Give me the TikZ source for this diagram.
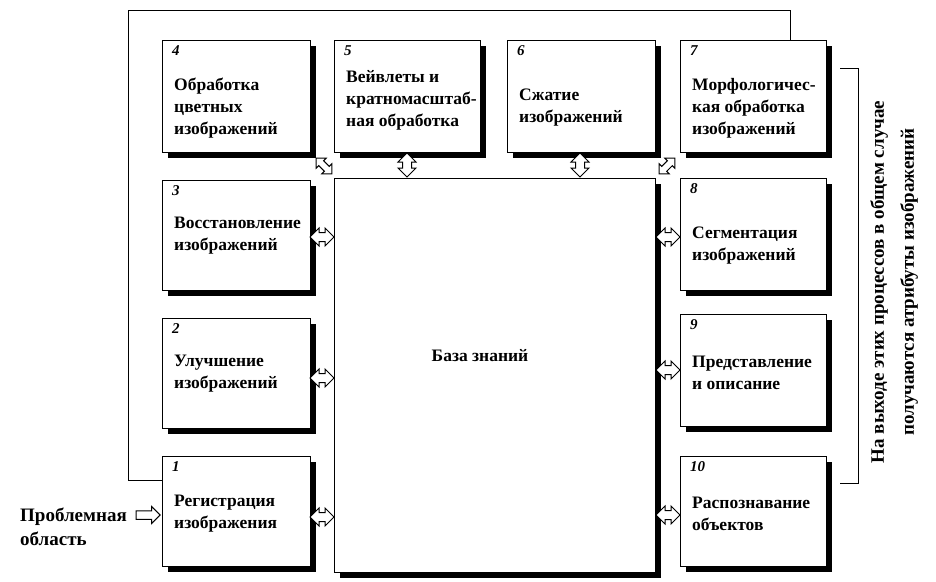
\documentclass[tikz,border=0pt]{standalone}
\usepackage{fontspec}
\setmainfont{Liberation Serif}
\usetikzlibrary{shapes.arrows,shadows}
\begin{document}
\begin{tikzpicture}[x=1pt,y=-1pt,
  blk/.style={draw=black,line width=1pt,fill=white,inner sep=0pt,
    drop shadow={shadow xshift=5pt,shadow yshift=-5pt,fill=black,opacity=1}},
  txt/.style={anchor=west,align=left,font=\fontsize{17.5}{22}\selectfont\bfseries,inner sep=0pt},
  num/.style={anchor=north west,font=\fontsize{15}{15}\selectfont\bfseries\itshape,inner sep=0pt},
  harr/.style={double arrow,draw=black,line width=1pt,fill=white,minimum height=24pt,minimum width=18pt,double arrow head extend=2.5pt,inner sep=2pt},
  sarr/.style={single arrow,draw=black,line width=1pt,fill=white,minimum height=24pt,minimum width=17pt,single arrow head extend=2.5pt,inner sep=2pt},
  fb/.style={line width=1pt}]
\useasboundingbox (0,0) rectangle (936,581);
\newcommand{\blkbox}[8]{%
  \node[blk,minimum width=#3pt,minimum height=#4pt,anchor=north west] (#5) at (#1,#2) {};
  \node[num] (#5n) at ([xshift=10pt,yshift=-5pt]#5.north west) {#6};
  \node[txt] (#5t) at ([xshift=12pt,yshift=#8pt]#5.west) {#7};}
\blkbox{162}{40}{148}{112}{b4}{4}{Обработка\\цветных\\изображений}{-12}
\blkbox{334}{40}{146}{112}{b5}{5}{Вейвлеты и\\кратномасштаб-\\ная обработка}{-4}
\blkbox{507}{40}{148}{112}{b6}{6}{Сжатие\\изображений}{-11}
\blkbox{680}{40}{146}{112}{b7}{7}{Морфологичес-\\кая обработка\\изображений}{-12}
\blkbox{162}{180}{148}{110}{b3}{3}{Восстановление\\изображений}{0}
\blkbox{162}{318}{148}{110}{b2}{2}{Улучшение\\изображений}{0}
\blkbox{162}{456}{148}{110}{b1}{1}{Регистрация\\изображения}{-2}
\blkbox{680}{178}{146}{112}{b8}{8}{Сегментация\\изображений}{-11}
\blkbox{680}{314}{146}{112}{b9}{9}{Представление\\и описание}{-2}
\blkbox{680}{456}{146}{110}{b10}{10}{Распознавание\\объектов}{-2}
\node[blk,minimum width=321pt,minimum height=394pt,anchor=north west] (kb) at (334,178) {};
\node[font=\fontsize{17.5}{20}\selectfont\bfseries] (kbt) at (480,356) {База знаний};
\foreach \y/\n in {237/l3,378/l2,517/l1}{\node[harr] (\n) at (322,\y) {};}
\foreach \y/\n in {237/r8,370/r9,515/r10}{\node[harr] (\n) at (668,\y) {};}
\node[harr,rotate=90] (t5) at (407,165) {};
\node[harr,rotate=90] (t6) at (580,165) {};
\node[harr,rotate=-45,minimum height=22pt,minimum width=14pt] (d4) at (324,166) {};
\node[harr,rotate=45,minimum height=22pt,minimum width=14pt] (d7) at (667,166) {};
\node[anchor=west,align=left,font=\fontsize{19}{24}\selectfont\bfseries,inner sep=0pt] (inp) at (20,527) {Проблемная\\область};
\node[sarr] (ia) at (146,515) {};
\coordinate (f1) at (128,480);
\coordinate (f2) at (128,10);
\coordinate (f3) at (790,10);
\draw[fb] (b1.west |- f1) -- (f1) -- (f2) -- (f3) -- (b7.north -| f3);
\coordinate (k1) at (858,68);
\coordinate (k2) at (858,483);
\draw[fb] (840,68) -- (k1) -- (k2) -- (840,483);
\node[rotate=90,align=center,font=\fontsize{19}{30}\selectfont\bfseries] (out) at (894,282) {На выходе этих процессов в общем случае\\получаются атрибуты изображений};
\end{tikzpicture}
\end{document}
